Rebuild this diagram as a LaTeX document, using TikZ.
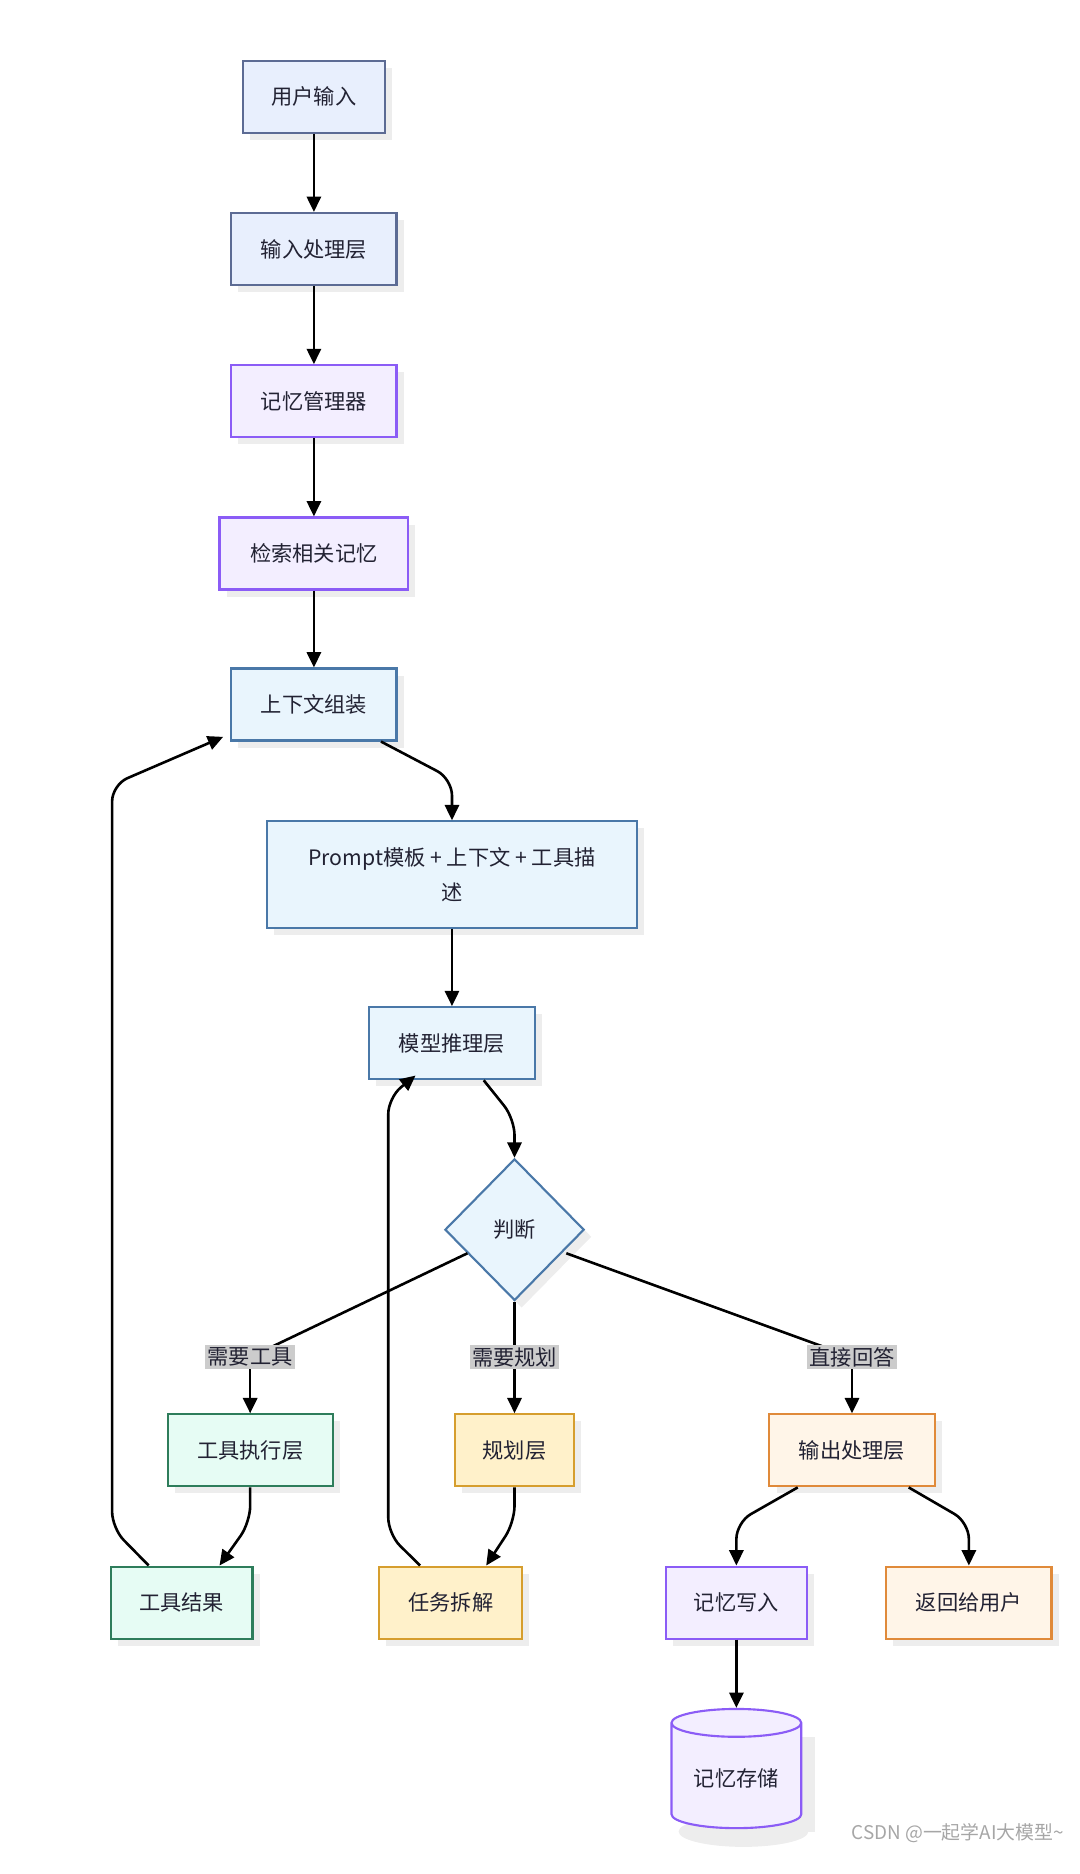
\documentclass[tikz,border=0pt]{standalone}
\usepackage{fontspec}
\setmainfont{Noto Sans CJK SC}
\usetikzlibrary{shapes.geometric,arrows.meta,calc}
\definecolor{bA}{HTML}{5C6B94}\definecolor{fA}{HTML}{E8EFFD}
\definecolor{bP}{HTML}{8B5CF6}\definecolor{fP}{HTML}{F3EEFF}
\definecolor{bB}{HTML}{4A78A8}\definecolor{fB}{HTML}{E9F5FD}
\definecolor{bG}{HTML}{2E7D5B}\definecolor{fG}{HTML}{E6FCF4}
\definecolor{bY}{HTML}{D69E2E}\definecolor{fY}{HTML}{FFF1CA}
\definecolor{bO}{HTML}{E08A3A}\definecolor{fO}{HTML}{FFF5E8}
\definecolor{tx}{HTML}{222233}
\tikzset{
 ft/.style={font=\fontsize{18}{30}\selectfont},
 box/.style={draw=#1,line width=1.8pt,minimum height=61pt,inner sep=2pt,text=tx,ft},
 A/.style={box=bA,fill=fA}, P/.style={box=bP,fill=fP}, B/.style={box=bB,fill=fB},
 G/.style={box=bG,fill=fG}, Y/.style={box=bY,fill=fY}, O/.style={box=bO,fill=fO},
 e/.style={line width=2.2pt,draw=black,rounded corners=14pt,-{Triangle[length=13pt,width=12pt]}},
 ln/.style={line width=2.2pt,draw=black},
 lab/.style={fill=black!20,text=tx,inner sep=2pt,ft},
}
\newcommand{\bx}[5]{% name style x y w
 \fill[black!7] (#3-#5/2+6,#4-30.5+6) rectangle (#3+#5/2+6,#4+30.5+6);
 \node[#2,minimum width=#5pt] (#1) at (#3,#4)}
\begin{document}
\begin{tikzpicture}[x=1pt,y=-1pt]
\useasboundingbox (0,0) rectangle (915,1588);
\bx{u}{A}{266}{82}{120}{用户输入};
\bx{ip}{A}{266}{211}{140}{输入处理层};
\bx{mm}{P}{266}{340}{140}{记忆管理器};
\bx{rs}{P}{266}{469}{160}{检索相关记忆};
\bx{ctx}{B}{266}{597}{140}{上下文组装};
\fill[black!7] (232,702) rectangle (546,792);
\node[B,minimum width=314pt,minimum height=90pt,align=center] (pr) at (383,741) {Prompt模板 + 上下文 + 工具描\\述};
\bx{inf}{B}{383}{884}{140}{模型推理层};
\fill[black!7] (442,988) -- (501,1048) -- (442,1108) -- (383,1048) -- cycle;
\node[diamond,draw=bB,fill=fB,line width=1.8pt,minimum width=118pt,minimum height=120pt,inner sep=0pt,text=tx,ft] (d) at (436,1042) {判断};
\bx{te}{G}{212}{1229}{140}{工具执行层};
\bx{pl}{Y}{436}{1229}{101}{规划层};
\bx{op}{O}{722}{1229}{140}{输出处理层};
\bx{tr}{G}{154}{1358}{120}{工具结果};
\bx{td}{Y}{382}{1358}{121}{任务拆解};
\bx{mw}{P}{624}{1358}{120}{记忆写入};
\bx{ret}{O}{821}{1358}{140}{返回给用户};
\fill[black!7] (581,1472) rectangle (691,1552);
\fill[black!7] (630,1552) ellipse (55pt and 13pt);
\node[cylinder,shape border rotate=90,aspect=0.3,draw=bP,fill=fP,line width=1.8pt,minimum width=110pt,minimum height=101pt,text=tx,ft] (ms) at (624,1507) {记忆存储};
% edges
\draw[e] (u) -- (ip);
\draw[e] (ip) -- (mm);
\draw[e] (mm) -- (rs);
\draw[e] (rs) -- (ctx);
\draw[e] ([xshift=-14pt]ctx.south east) -- (383,660) -- (pr.north);
\draw[e] (pr) -- (inf);
\draw[e] ([xshift=-44pt]inf.south east) -- (436,948) -- (d.north);
\draw[ln] (d.west) ++(20,20) -- (212,1150);
\draw[e] (212,1150) -- (te.north);
\node[lab] (l1) at (212,1150) {需要工具};
\draw[ln] (d.south) -- (436,1150);
\draw[e] (436,1150) -- (pl.north);
\node[lab] (l2) at (436,1150) {需要规划};
\draw[ln] (d.east) ++(-16,20) -- (722,1150);
\draw[e] (722,1150) -- (op.north);
\node[lab] (l3) at (722,1150) {直接回答};
\draw[e] (te.south) -- (212,1290) -- ([xshift=32pt]tr.north);
\draw[e] ([xshift=-28pt]tr.north) -- (95,1295) -- (95,665) -- ([xshift=-6pt,yshift=4pt]ctx.south west);
\draw[e] (pl.south) -- (436,1290) -- ([xshift=30pt]td.north);
\draw[e] ([xshift=-26pt]td.north) -- (329,1300) -- (329,930) -- ([xshift=40pt,yshift=4pt]inf.south west);
\draw[e] ([xshift=-46pt]op.south) -- (624,1290) -- (mw.north);
\draw[e] ([xshift=48pt]op.south) -- (821,1290) -- (ret.north);
\draw[e] (mw) -- (ms.top);
\node[anchor=east,text=black!35,font=\fontsize{16}{18}\selectfont] (wm) at (905,1553) {CSDN @一起学AI大模型\textasciitilde};
\end{tikzpicture}
\end{document}
